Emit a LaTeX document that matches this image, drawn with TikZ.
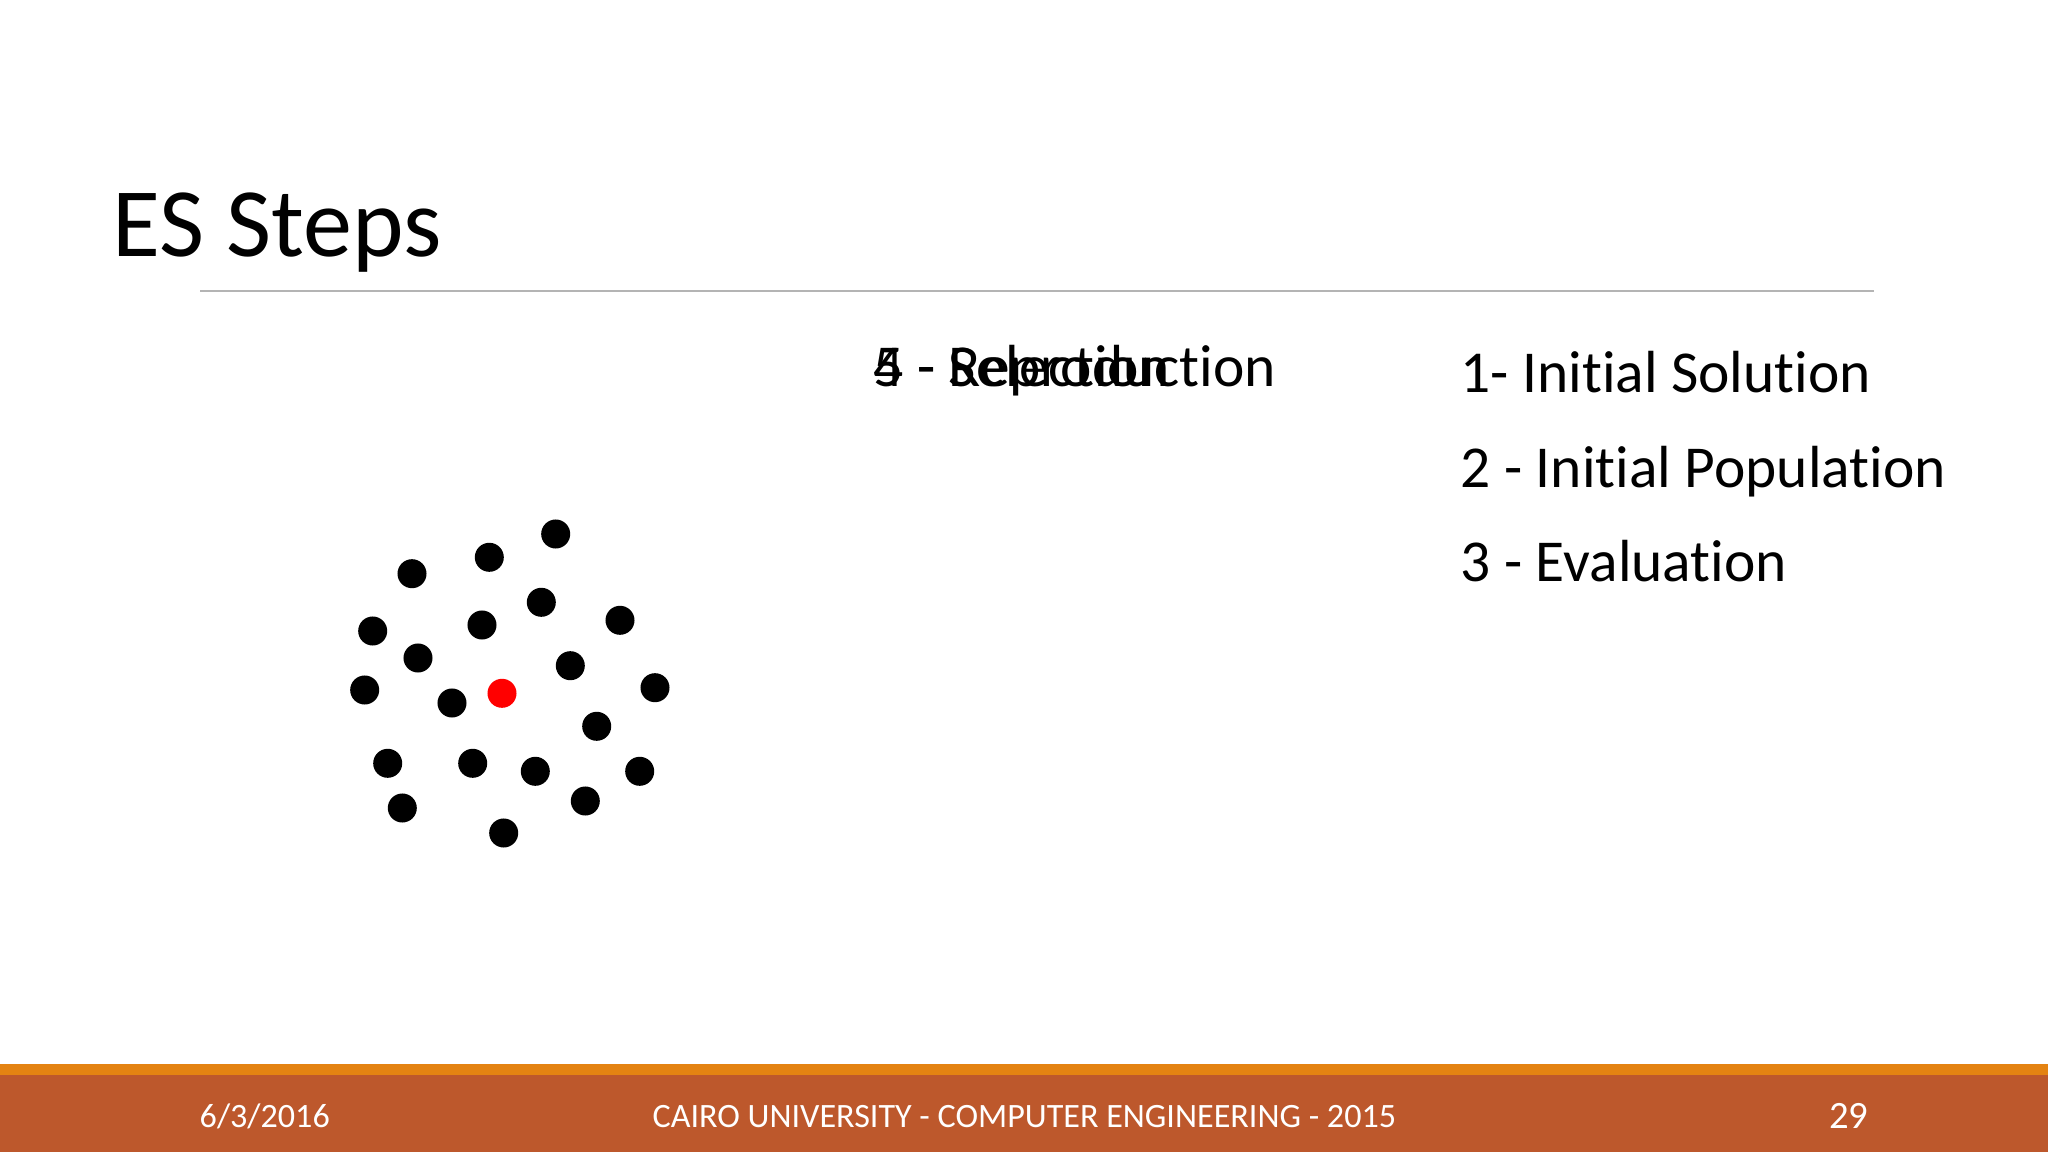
\documentclass[tikz,border=0pt]{standalone}
\usepackage{fontspec}
\setmainfont{Carlito}[RawFeature=-liga]
\definecolor{stripor}{HTML}{E48312}
\definecolor{bandor}{HTML}{BD582C}
\definecolor{rulegray}{HTML}{B4B4B4}
\tikzset{
  dot/.style={circle,fill=black,inner sep=0pt,minimum size=0.29cm},
  reddot/.style={dot,fill=red},
  txt/.style={inner sep=0pt,anchor=base west,font=\fontsize{16.9}{19}\selectfont},
  foot/.style={inner sep=0pt,text=white,font=\fontsize{9.7}{11}\selectfont},
}
\begin{document}
\begin{tikzpicture}[x=0.01cm,y=-0.01cm]
\useasboundingbox (0,0) rectangle (2048,1152);
\fill[white] (0,0) rectangle (2048,1152);
% footer
\fill[stripor] (0,1064) rectangle (2048,1075);
\fill[bandor] (0,1075) rectangle (2048,1152);
% title
\node[inner sep=0pt,anchor=base west,font=\fontsize{27.9}{31}\selectfont] (title) at (112,257) {ES Steps};
\coordinate (rl) at (200,291);
\coordinate (rr) at (1874,291);
\draw[rulegray,line width=0.6pt] (rl) -- (rr);
% overlapping step labels
\node[txt] (s4) at (873,387) {4 - Selection};
\node[txt] (s5) at (873,387) {5 - Reproduction};
% right list
\node[txt] (s1) at (1460,393) {1- Initial Solution};
\node[txt] (s2) at (1460,488) {2 - Initial Population};
\node[txt] (s3) at (1460,582) {3 - Evaluation};
% dots
\node[dot] (d1) at (555.7,534) {};
\node[dot] (d2) at (489.3,557.3) {};
\node[dot] (d3) at (412,573.7) {};
\node[dot] (d4) at (541.3,602.3) {};
\node[dot] (d5) at (620,620.3) {};
\node[dot] (d6) at (372.7,631) {};
\node[dot] (d7) at (482,625) {};
\node[dot] (d8) at (418,658) {};
\node[dot] (d9) at (570.3,665.7) {};
\node[dot] (d10) at (364.7,690) {};
\node[dot] (d11) at (452,703) {};
\node[reddot] (dr) at (502,693.3) {};
\node[dot] (d13) at (655,687.7) {};
\node[dot] (d14) at (596.7,726.3) {};
\node[dot] (d15) at (387.7,763.3) {};
\node[dot] (d16) at (472.7,763.3) {};
\node[dot] (d17) at (535.3,771.3) {};
\node[dot] (d18) at (639.7,771.3) {};
\node[dot] (d19) at (402.3,808) {};
\node[dot] (d20) at (585.3,801) {};
\node[dot] (d21) at (503.7,833) {};
% footer texts
\node[foot,anchor=base west] (fdate) at (199,1127) {6/3/2016};
\node[foot,anchor=base west] (fmid) at (652,1127) {CAIRO UNIVERSITY - COMPUTER ENGINEERING - 2015};
\node[foot,anchor=base east,font=\fontsize{11}{13}\selectfont] (fnum) at (1869,1128) {29};
\end{tikzpicture}
\end{document}
